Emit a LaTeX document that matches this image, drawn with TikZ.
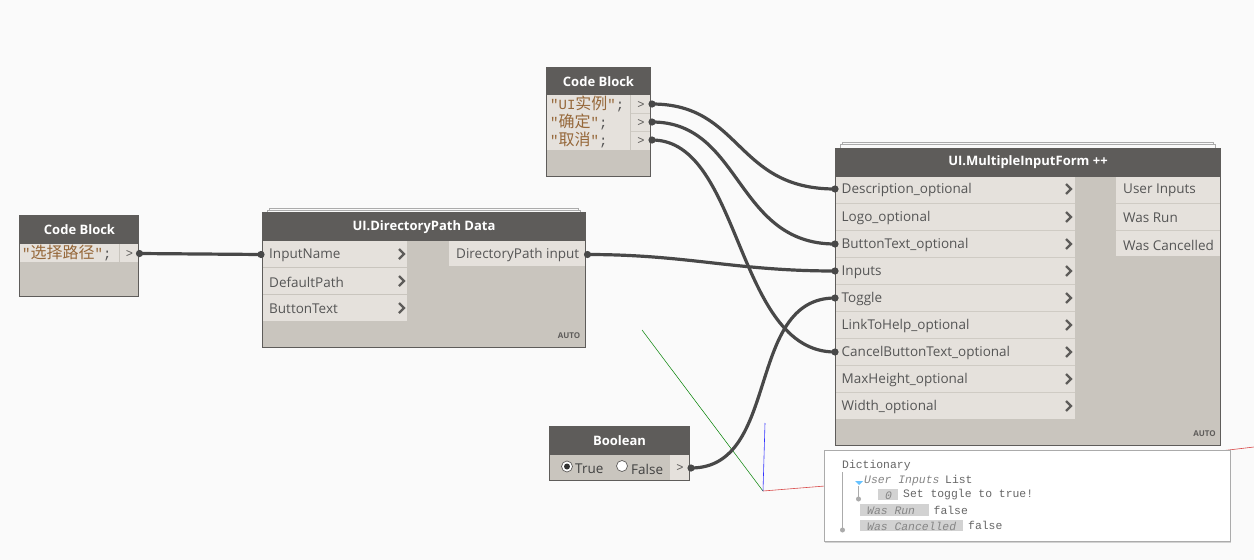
\documentclass[tikz,border=0pt]{standalone}
\usepackage{fontspec}
\setmainfont{Open Sans}
\setmonofont{Liberation Mono}
\newfontfamily\cjk{Noto Sans CJK SC}
\definecolor{bgc}{HTML}{FAFAFA}
\definecolor{headc}{HTML}{5E5C5A}
\definecolor{bodyc}{HTML}{C9C5BE}
\definecolor{rowc}{HTML}{E5E1DC}
\definecolor{sepc}{HTML}{CFCBC4}
\definecolor{txtc}{HTML}{555555}
\definecolor{wirec}{HTML}{484848}
\definecolor{strc}{HTML}{96683A}
\definecolor{chipc}{HTML}{D2D2D2}
\definecolor{watchc}{HTML}{666666}
\definecolor{treec}{HTML}{ABABAB}
\tikzset{
  x=1pt,y=-1pt,
  body/.style={fill=bodyc,draw=headc,line width=1pt},
  head/.style={fill=headc,draw=headc,line width=1pt},
  back/.style={fill=bgc,draw=treec,line width=1pt},
  row/.style={fill=rowc,draw=none},
  sep/.style={draw=sepc,line width=1pt},
  title/.style={text=white,font=\fontsize{13}{16}\selectfont\bfseries,inner sep=0pt,yshift=-.6pt},
  lab/.style={text=txtc,font=\fontsize{13.5}{16}\selectfont,anchor=west,inner sep=0pt,yshift=-1.2pt},
  autolab/.style={text=headc,font=\fontsize{8}{9}\selectfont\bfseries,inner sep=0pt,yshift=-.5pt},
  code/.style={font=\ttfamily\fontsize{14}{16}\selectfont,anchor=west,inner sep=0pt,text=strc,yshift=-.3pt},
  gt/.style={text=headc,font=\ttfamily\fontsize{12}{14}\selectfont,inner sep=0pt,yshift=-.5pt},
  watch/.style={font=\ttfamily\fontsize{11.4}{13}\selectfont,anchor=west,inner sep=0pt,text=watchc,yshift=-.8pt},
  watchi/.style={watch,font=\ttfamily\itshape\fontsize{11.4}{13}\selectfont,text=watchc!80!white},
  wire/.style={draw=wirec,line width=3.2pt,line cap=round},
  dot/.style={fill=wirec,draw=none},
  chev/.style={draw=headc,line width=2.2pt},
  axisr/.style={draw=red!80!black,line width=0.6pt,opacity=.7},
  axisg/.style={draw=green!50!black,line width=0.5pt},
  axisb/.style={draw=blue!80,line width=0.6pt},
  tree/.style={draw=treec,line width=1pt},
}
\newcommand{\chevat}[2]{\draw[chev] (#1-3,#2-5) -- (#1+2,#2) -- (#1-3,#2+5);}
\newcommand{\cjkcode}[1]{{\fontsize{16}{16}\selectfont\cjk #1}}
\begin{document}
\begin{tikzpicture}
\useasboundingbox (0,0) rectangle (1254,560);
\fill[bgc] (0,0) rectangle (1254,560);

% view axes
\coordinate (origin) at (763,491);
\coordinate (gend) at (642,330);
\coordinate (bend) at (765,423);
\coordinate (rend) at (825,486);
\coordinate (rstart) at (1220,451);
\coordinate (rfar) at (1254,447);
\draw[axisg] (origin) -- (gend);
\draw[axisb] (origin) -- (bend);
\draw[axisr] (origin) -- (rend);
\draw[axisr] (rstart) -- (rfar);

% Code Block left
\fill[body] (19.5,215.5) rectangle (138.5,296.5);
\fill[head] (19.5,215.5) rectangle (138.5,243);
\node[title] (cb1t) at (79.5,229.3) {Code Block};
\fill[row] (20,244) rectangle (119,262);
\fill[row] (120,244) rectangle (138,262);
\node[code] (cb1a) at (22,253) {"\cjkcode{选择路径}"{\color{txtc};}};
\node[gt] (cb1g) at (129.5,253) {>};

% Code Block top
\fill[body] (546.5,67.5) rectangle (650.5,176.5);
\fill[head] (546.5,67.5) rectangle (650.5,94);
\node[title] (cb2t) at (598.5,81) {Code Block};
\fill[row] (547,95) rectangle (630,150);
\fill[row] (631,95) rectangle (650,150);
\draw[sep] (631,113) -- (650,113);
\draw[sep] (631,131) -- (650,131);
\node[code] (cb2a) at (550,104) {"UI\cjkcode{实例}"{\color{txtc};}};
\node[code] (cb2b) at (550,122) {"\cjkcode{确定}"{\color{txtc};}};
\node[code] (cb2c) at (550,140) {"\cjkcode{取消}"{\color{txtc};}};
\node[gt] (cb2ga) at (641,104) {>};
\node[gt] (cb2gb) at (641,122) {>};
\node[gt] (cb2gc) at (641,140) {>};

% UI.DirectoryPath Data
\fill[back] (269,208) rectangle (578,212);
\fill[back] (267,210) rectangle (580,214);
\fill[body] (262.5,212.5) rectangle (585.5,347.5);
\fill[head] (262.5,212.5) rectangle (585.5,240);
\node[title] (dpt) at (424,226.5) {UI.DirectoryPath Data};
\foreach \n/\t/\yy in {a/InputName/254,b/DefaultPath/281,c/ButtonText/308}{
  \fill[row] (263,\yy-13) rectangle (407,\yy+13);
  \node[lab] (dp\n) at (269,\yy) {\t};
  \chevat{402}{\yy}
}
\fill[row] (449,241) rectangle (585,266);
\node[lab] (dpo) at (456,254) {DirectoryPath input};
\node[autolab,anchor=east] (dpauto) at (580.5,335) {AUTO};

% UI.MultipleInputForm ++
\fill[back] (842,142) rectangle (1213,146);
\fill[back] (840,144) rectangle (1215,148);
\fill[body] (835.5,148.5) rectangle (1220.5,445.5);
\fill[head] (835.5,148.5) rectangle (1220.5,176);
\node[title] (mft) at (1028,162) {UI.MultipleInputForm ++};
\fill[row] (836,177) rectangle (1075,419);
\foreach \yy in {203,230,257,284,311,338,365,392}{
  \draw[sep] (836,\yy+.5) -- (1075,\yy+.5);
}
\foreach \n/\t/\yy in {a/Description\_optional/189,b/Logo\_optional/217,c/ButtonText\_optional/244,d/Inputs/271,e/Toggle/298,f/LinkToHelp\_optional/325,g/CancelButtonText\_optional/352,h/MaxHeight\_optional/379,i/Width\_optional/406}{
  \node[lab] (mf\n) at (841.5,\yy) {\t};
  \chevat{1069}{\yy}
}
\fill[row] (1116,177) rectangle (1220,256);
\draw[sep] (1116,203.5) -- (1220,203.5);
\draw[sep] (1116,230.5) -- (1220,230.5);
\node[lab] (mfo1) at (1123,189) {User Inputs};
\node[lab] (mfo2) at (1123,217) {Was Run};
\node[lab] (mfo3) at (1123,244) {Was Cancelled};
\node[autolab,anchor=east] (mfauto) at (1216,433) {AUTO};

% Boolean
\fill[body] (549.5,426.5) rectangle (689.5,480.5);
\fill[head] (549.5,426.5) rectangle (689.5,454);
\node[title] (blt) at (619.5,440.3) {Boolean};
\fill[row] (670,455) rectangle (689,480);
\node[gt] (blg) at (680,467.5) {>};
\draw[fill=white,draw=headc,line width=.7pt] (567,466.5) circle[radius=5.5];
\fill[black!80] (567,466.5) circle[radius=3];
\draw[fill=white,draw=headc,line width=.7pt] (622,466) circle[radius=5.5];
\node[lab,text=black!75] (bltrue) at (575,468) {True};
\node[lab,text=black!75] (blfalse) at (631,468) {False};

% Watch bubble
\fill[white,draw=treec,line width=1pt] (824.5,450.5) rectangle (1230.5,541.5);
\draw[chipc,line width=1.5pt] (824.5,542.5) -- (1230.5,542.5);
\node[watch] (wd) at (842,465) {Dictionary};
\draw[tree] (842.5,472) -- (842.5,530);
\fill[treec] (842.5,530) circle[radius=2.5];
\fill[blue!40!cyan!60] (855,481) -- (863,481) -- (859,485) -- cycle;
\node[watchi] (wui) at (864,480) {User Inputs};
\node[watch] (wl) at (945,479) {List};
\draw[tree] (858.5,486) -- (858.5,499);
\fill[treec] (858.5,499) circle[radius=2.5];
\fill[chipc] (878,489) rectangle (898,500);
\node[watchi] (w0) at (885,494.5) {0};
\node[watch] (ws) at (903,494) {Set toggle to true!};
\fill[chipc] (860,504) rectangle (929,516);
\node[watchi] (wr) at (867,510) {Was Run};
\node[watch] (wrf) at (933.5,510) {false};
\fill[chipc] (860,520) rectangle (963,531);
\node[watchi] (wc) at (867,526) {Was Cancelled};
\node[watch] (wcf) at (968,525) {false};

% port coordinates
\coordinate (p1) at (139.5,253.5);
\coordinate (dpin) at (261,254.5);
\coordinate (dpout) at (587.5,254.5);
\coordinate (p2a) at (652,104);
\coordinate (p2b) at (652,122);
\coordinate (p2c) at (652,140);
\coordinate (blout) at (691,468);
\coordinate (mfia) at (835,189);
\coordinate (mfic) at (835,244);
\coordinate (mfid) at (835,271);
\coordinate (mfie) at (835,298);
\coordinate (mfig) at (835,352);

% wires
\draw[wire] (p1) -- (dpin);
\draw[wire] (dpout) .. controls +(100,0) and +(-100,0) .. (mfid);
\draw[wire] (p2a) .. controls +(90,0) and +(-100,0) .. (mfia);
\draw[wire] (p2b) .. controls +(90,0) and +(-100,0) .. (mfic);
\draw[wire] (p2c) .. controls +(90,0) and +(-100,0) .. (mfig);
\draw[wire] (blout) .. controls +(90,0) and +(-90,0) .. (mfie);
\foreach \c in {p1,dpin,dpout,p2a,p2b,p2c,blout,mfia,mfic,mfid,mfie,mfig}{
  \fill[dot] (\c) circle[radius=3.6];
}
\end{tikzpicture}
\end{document}
